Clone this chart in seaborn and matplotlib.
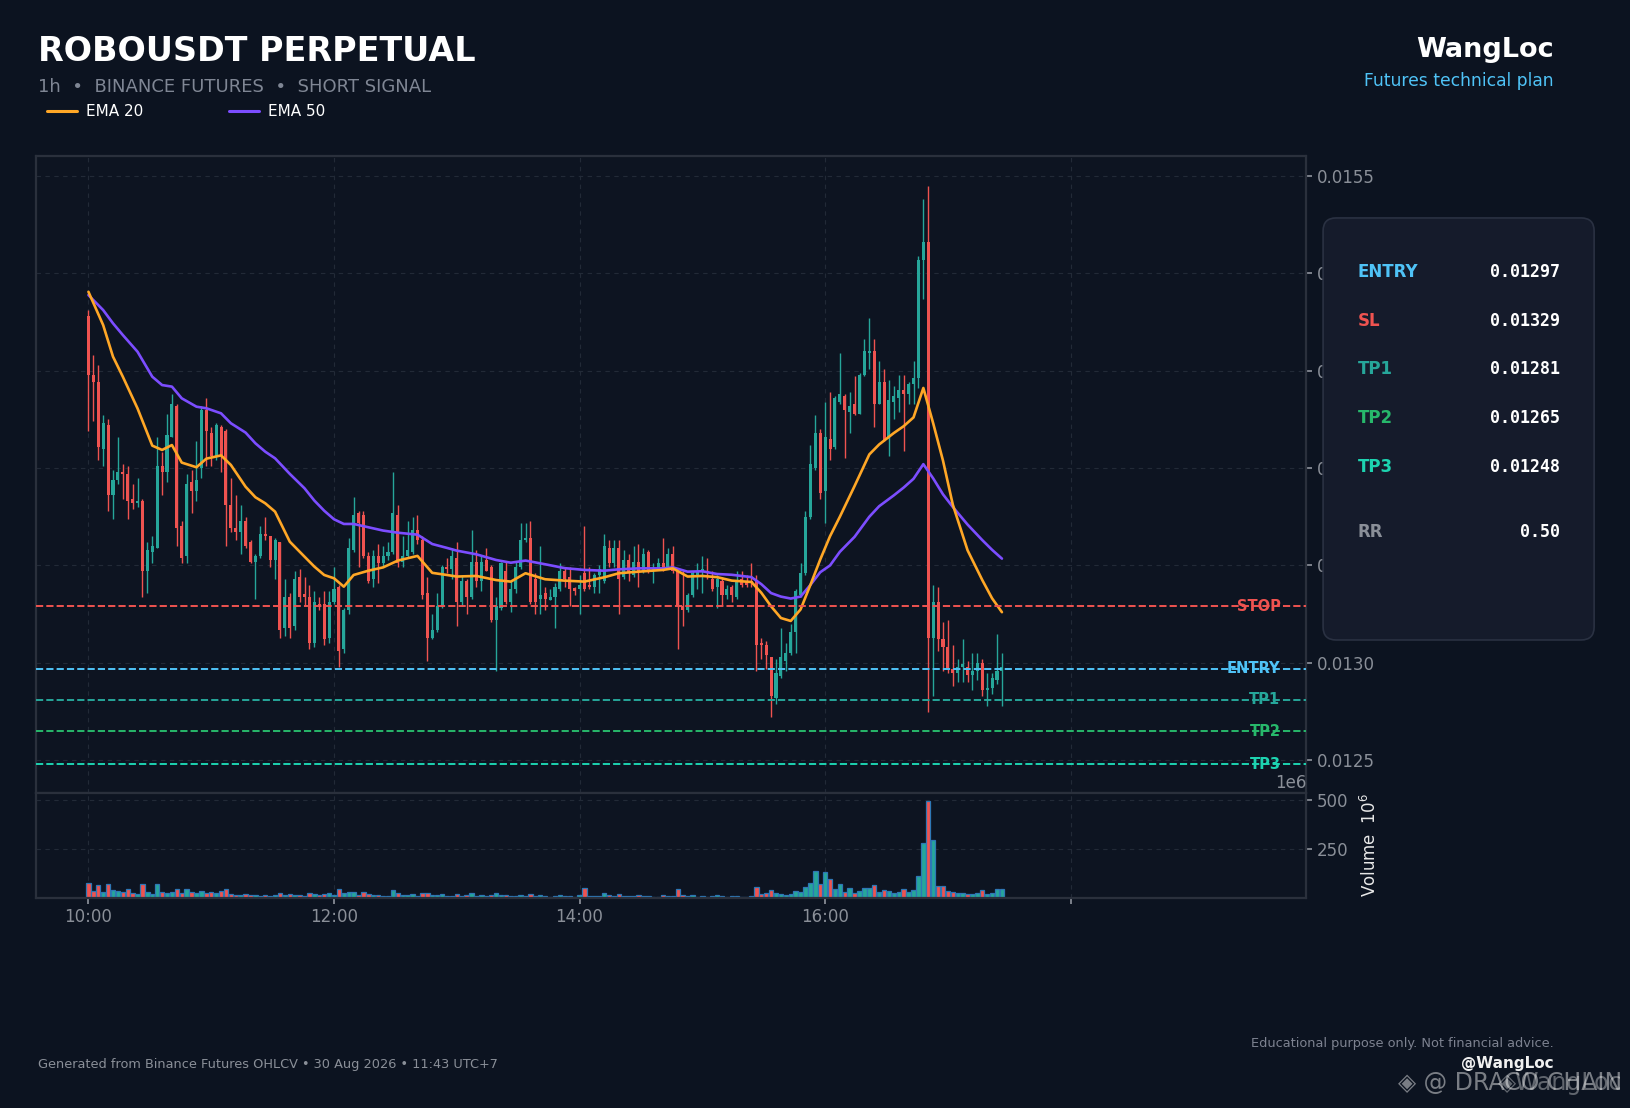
import numpy as np
import pandas as pd
import seaborn as sns
import matplotlib
matplotlib.use("Agg")
import matplotlib.pyplot as plt
from matplotlib.patches import FancyBboxPatch
from matplotlib.lines import Line2D
from matplotlib.ticker import FormatStrFormatter

# ---------------- data (1h candles) ----------------
opens = [
    0.01478, 0.01448, 0.01444, 0.01410, 0.01422, 0.01386, 0.01394, 0.01398, 0.01397, 0.01384,
    0.01382, 0.01383, 0.01347, 0.01357, 0.01359, 0.01401, 0.01398, 0.01416, 0.01432, 0.01370,
    0.01355, 0.01393, 0.01388, 0.01400, 0.01430, 0.01418, 0.01406, 0.01421, 0.01419, 0.01381,
    0.01369, 0.01367, 0.01373, 0.01362, 0.01352, 0.01355, 0.01366, 0.01365, 0.01353, 0.01362,
    0.01318, 0.01334, 0.01319, 0.01344, 0.01335, 0.01334, 0.01310, 0.01330, 0.01330, 0.01313,
    0.01331, 0.01339, 0.01307, 0.01327, 0.01358, 0.01377, 0.01376, 0.01355, 0.01343, 0.01355,
    0.01351, 0.01355, 0.01357, 0.01376, 0.01352, 0.01355, 0.01357, 0.01368, 0.01363, 0.01336,
    0.01313, 0.01317, 0.01329, 0.01349, 0.01348, 0.01354, 0.01331, 0.01342, 0.01334, 0.01352,
    0.01342, 0.01353, 0.01349, 0.01322, 0.01328, 0.01347, 0.01331, 0.01338, 0.01349, 0.01363,
    0.01364, 0.01343, 0.01333, 0.01336, 0.01332, 0.01334, 0.01338, 0.01347, 0.01344, 0.01338,
    0.01338, 0.01346, 0.01340, 0.01339, 0.01345, 0.01342, 0.01359, 0.01351, 0.01359, 0.01344,
    0.01353, 0.01345, 0.01352, 0.01347, 0.01357, 0.01347, 0.01348, 0.01351, 0.01349, 0.01356,
    0.01347, 0.01329, 0.01327, 0.01335, 0.01345, 0.01347, 0.01347, 0.01343, 0.01339, 0.01342,
    0.01335, 0.01339, 0.01334, 0.01343, 0.01342, 0.01342, 0.01342, 0.01310, 0.01309, 0.01303,
    0.01282, 0.01293, 0.01301, 0.01305, 0.01316, 0.01335, 0.01346, 0.01375, 0.01400, 0.01418,
    0.01388, 0.01415, 0.01411, 0.01434, 0.01437, 0.01429, 0.01433, 0.01428, 0.01448, 0.01459,
    0.01460, 0.01433, 0.01444, 0.01415, 0.01434, 0.01436, 0.01440, 0.01438, 0.01443, 0.01446,
    0.01507, 0.01516, 0.01313, 0.01331, 0.01312, 0.01308, 0.01297, 0.01295, 0.01298, 0.01298,
    0.01294, 0.01296, 0.01300, 0.01286, 0.01287, 0.01291, 0.01296,
]
highs = [
    0.01481, 0.01458, 0.01453, 0.01427, 0.01425, 0.01399, 0.01416, 0.01402, 0.01401, 0.01392,
    0.01395, 0.01384, 0.01362, 0.01365, 0.01416, 0.01408, 0.01428, 0.01438, 0.01433, 0.01373,
    0.01397, 0.01399, 0.01414, 0.01432, 0.01436, 0.01421, 0.01423, 0.01422, 0.01420, 0.01395,
    0.01386, 0.01381, 0.01375, 0.01363, 0.01356, 0.01370, 0.01375, 0.01365, 0.01364, 0.01362,
    0.01343, 0.01336, 0.01347, 0.01348, 0.01344, 0.01340, 0.01337, 0.01334, 0.01337, 0.01337,
    0.01349, 0.01340, 0.01328, 0.01364, 0.01385, 0.01378, 0.01378, 0.01357, 0.01358, 0.01361,
    0.01360, 0.01362, 0.01398, 0.01381, 0.01365, 0.01373, 0.01375, 0.01376, 0.01365, 0.01344,
    0.01325, 0.01336, 0.01350, 0.01354, 0.01359, 0.01362, 0.01345, 0.01343, 0.01368, 0.01358,
    0.01355, 0.01359, 0.01350, 0.01334, 0.01352, 0.01352, 0.01342, 0.01352, 0.01372, 0.01372,
    0.01373, 0.01346, 0.01360, 0.01339, 0.01338, 0.01341, 0.01351, 0.01349, 0.01349, 0.01339,
    0.01345, 0.01370, 0.01349, 0.01346, 0.01350, 0.01366, 0.01363, 0.01363, 0.01363, 0.01358,
    0.01356, 0.01360, 0.01361, 0.01359, 0.01358, 0.01351, 0.01354, 0.01364, 0.01359, 0.01360,
    0.01347, 0.01347, 0.01336, 0.01347, 0.01351, 0.01355, 0.01354, 0.01347, 0.01345, 0.01344,
    0.01340, 0.01340, 0.01347, 0.01347, 0.01345, 0.01351, 0.01345, 0.01313, 0.01311, 0.01303,
    0.01302, 0.01318, 0.01310, 0.01320, 0.01338, 0.01351, 0.01378, 0.01412, 0.01427, 0.01420,
    0.01434, 0.01439, 0.01437, 0.01459, 0.01438, 0.01439, 0.01447, 0.01449, 0.01466, 0.01477,
    0.01466, 0.01455, 0.01451, 0.01445, 0.01442, 0.01448, 0.01448, 0.01444, 0.01455, 0.01509,
    0.01538, 0.01545, 0.01340, 0.01339, 0.01321, 0.01322, 0.01309, 0.01302, 0.01312, 0.01301,
    0.01305, 0.01305, 0.01302, 0.01295, 0.01295, 0.01315, 0.01305,
]
lows = [
    0.01419, 0.01424, 0.01404, 0.01401, 0.01378, 0.01374, 0.01392, 0.01384, 0.01374, 0.01379,
    0.01380, 0.01334, 0.01336, 0.01351, 0.01359, 0.01386, 0.01393, 0.01416, 0.01360, 0.01351,
    0.01351, 0.01377, 0.01383, 0.01395, 0.01401, 0.01401, 0.01404, 0.01398, 0.01360, 0.01367,
    0.01363, 0.01356, 0.01359, 0.01351, 0.01333, 0.01354, 0.01363, 0.01349, 0.01343, 0.01313,
    0.01314, 0.01313, 0.01317, 0.01331, 0.01329, 0.01307, 0.01308, 0.01327, 0.01309, 0.01310,
    0.01330, 0.01298, 0.01305, 0.01325, 0.01357, 0.01349, 0.01354, 0.01341, 0.01339, 0.01341,
    0.01349, 0.01353, 0.01356, 0.01349, 0.01349, 0.01354, 0.01356, 0.01361, 0.01333, 0.01301,
    0.01312, 0.01316, 0.01328, 0.01346, 0.01343, 0.01319, 0.01329, 0.01325, 0.01333, 0.01339,
    0.01337, 0.01347, 0.01321, 0.01296, 0.01327, 0.01330, 0.01326, 0.01336, 0.01348, 0.01362,
    0.01330, 0.01325, 0.01325, 0.01327, 0.01332, 0.01318, 0.01337, 0.01339, 0.01329, 0.01335,
    0.01325, 0.01337, 0.01338, 0.01336, 0.01336, 0.01341, 0.01349, 0.01349, 0.01325, 0.01343,
    0.01342, 0.01344, 0.01339, 0.01346, 0.01346, 0.01341, 0.01348, 0.01347, 0.01348, 0.01346,
    0.01307, 0.01319, 0.01326, 0.01334, 0.01338, 0.01336, 0.01343, 0.01337, 0.01328, 0.01329,
    0.01333, 0.01331, 0.01333, 0.01339, 0.01339, 0.01339, 0.01296, 0.01302, 0.01297, 0.01272,
    0.01279, 0.01292, 0.01296, 0.01304, 0.01305, 0.01334, 0.01345, 0.01374, 0.01399, 0.01384,
    0.01372, 0.01404, 0.01410, 0.01433, 0.01405, 0.01418, 0.01427, 0.01428, 0.01447, 0.01451,
    0.01421, 0.01433, 0.01414, 0.01406, 0.01425, 0.01429, 0.01409, 0.01433, 0.01433, 0.01441,
    0.01487, 0.01275, 0.01283, 0.01306, 0.01296, 0.01295, 0.01288, 0.01290, 0.01290, 0.01290,
    0.01286, 0.01291, 0.01283, 0.01278, 0.01284, 0.01289, 0.01278,
]
closes = [
    0.01448, 0.01444, 0.01411, 0.01423, 0.01386, 0.01394, 0.01398, 0.01397, 0.01383, 0.01382,
    0.01383, 0.01347, 0.01358, 0.01360, 0.01401, 0.01398, 0.01417, 0.01433, 0.01369, 0.01354,
    0.01392, 0.01388, 0.01394, 0.01430, 0.01419, 0.01406, 0.01422, 0.01406, 0.01381, 0.01369,
    0.01367, 0.01373, 0.01360, 0.01352, 0.01355, 0.01366, 0.01365, 0.01353, 0.01363, 0.01317,
    0.01334, 0.01318, 0.01343, 0.01334, 0.01334, 0.01310, 0.01331, 0.01329, 0.01312, 0.01331,
    0.01338, 0.01306, 0.01327, 0.01359, 0.01376, 0.01372, 0.01355, 0.01342, 0.01355, 0.01351,
    0.01355, 0.01357, 0.01377, 0.01351, 0.01355, 0.01358, 0.01368, 0.01363, 0.01335, 0.01313,
    0.01317, 0.01329, 0.01349, 0.01348, 0.01355, 0.01331, 0.01342, 0.01334, 0.01352, 0.01342,
    0.01352, 0.01347, 0.01322, 0.01329, 0.01351, 0.01331, 0.01338, 0.01349, 0.01363, 0.01364,
    0.01331, 0.01331, 0.01335, 0.01333, 0.01334, 0.01339, 0.01347, 0.01343, 0.01338, 0.01337,
    0.01340, 0.01338, 0.01339, 0.01345, 0.01348, 0.01360, 0.01351, 0.01359, 0.01343, 0.01353,
    0.01346, 0.01352, 0.01347, 0.01356, 0.01347, 0.01348, 0.01351, 0.01348, 0.01356, 0.01347,
    0.01329, 0.01327, 0.01335, 0.01346, 0.01347, 0.01348, 0.01346, 0.01338, 0.01343, 0.01335,
    0.01338, 0.01335, 0.01342, 0.01340, 0.01340, 0.01341, 0.01309, 0.01309, 0.01304, 0.01283,
    0.01295, 0.01303, 0.01305, 0.01316, 0.01337, 0.01346, 0.01375, 0.01402, 0.01418, 0.01387,
    0.01416, 0.01410, 0.01436, 0.01438, 0.01430, 0.01432, 0.01428, 0.01448, 0.01460, 0.01460,
    0.01433, 0.01444, 0.01414, 0.01435, 0.01437, 0.01440, 0.01438, 0.01443, 0.01446, 0.01507,
    0.01516, 0.01313, 0.01331, 0.01312, 0.01308, 0.01297, 0.01295, 0.01298, 0.01299, 0.01294,
    0.01296, 0.01300, 0.01286, 0.01287, 0.01292, 0.01296, 0.01298,
]
# volume in millions of contracts
volumes_m = [
    75, 35, 65, 30, 70, 42, 32, 30, 46, 22,
    20, 71, 30, 20, 71, 28, 25, 30, 46, 25,
    46, 28, 22, 35, 25, 30, 22, 35, 46, 18,
    15, 12, 20, 12, 15, 10, 12, 10, 12, 25,
    15, 18, 12, 15, 10, 22, 18, 12, 20, 22,
    15, 46, 25, 30, 28, 15, 30, 20, 15, 12,
    10, 8, 38, 25, 15, 12, 18, 10, 22, 25,
    12, 15, 20, 8, 10, 20, 10, 12, 25, 10,
    12, 8, 15, 25, 15, 12, 10, 8, 12, 8,
    18, 10, 12, 8, 6, 10, 15, 8, 10, 5,
    12, 51, 10, 8, 10, 25, 12, 10, 20, 8,
    10, 8, 12, 8, 10, 6, 5, 12, 8, 10,
    46, 15, 8, 12, 6, 8, 6, 10, 12, 8,
    5, 8, 10, 6, 5, 8, 56, 18, 22, 40,
    25, 20, 15, 20, 35, 30, 56, 77, 138, 70,
    133, 97, 45, 71, 30, 51, 25, 35, 51, 51,
    66, 30, 40, 35, 25, 30, 46, 30, 38, 112,
    280, 495, 296, 61, 61, 35, 28, 22, 25, 20,
    18, 22, 40, 20, 25, 45, 45,
]

# EMA readings (candle index -> value)
ema_idx = [0, 3, 5, 7, 10, 13, 15, 17, 19, 22, 24, 27, 29, 32, 34, 36, 38, 41, 44, 46,
           48, 50, 52, 54, 57, 60, 63, 67, 70, 73, 75, 79, 83, 86, 89, 93, 97, 101, 105, 108,
           112, 117, 119, 122, 125, 128, 131, 135, 137, 139, 141, 143, 145, 147, 149, 151, 153, 156, 159, 161,
           164, 166, 168, 170, 172, 174, 176, 179, 182, 184, 186]
ema20 = [0.014905, 0.014734, 0.014572, 0.014469, 0.014306, 0.014115, 0.014093, 0.014118, 0.014028, 0.014004,
         0.014048, 0.014065, 0.014016, 0.013904, 0.013850, 0.013819, 0.013776, 0.013622, 0.013545, 0.013494,
         0.013451, 0.013434, 0.013391, 0.013451, 0.013473, 0.013490, 0.013525, 0.013549, 0.013462, 0.013451,
         0.013443, 0.013446, 0.013425, 0.013417, 0.013460, 0.013429, 0.013422, 0.013417, 0.013439, 0.013460,
         0.013468, 0.013477, 0.013485, 0.013443, 0.013446, 0.013440, 0.013422, 0.013415, 0.013360, 0.013290,
         0.013230, 0.013215, 0.013274, 0.013400, 0.013530, 0.013650, 0.013750, 0.013908, 0.014070, 0.014121,
         0.014180, 0.014215, 0.014260, 0.014411, 0.014230, 0.014038, 0.013812, 0.013578, 0.013425, 0.013331,
         0.013260]
ema50 = [0.014888, 0.014811, 0.014743, 0.014683, 0.014597, 0.014469, 0.014426, 0.014418, 0.014358, 0.014315,
         0.014307, 0.014281, 0.014230, 0.014182, 0.014127, 0.014084, 0.014050, 0.013970, 0.013896, 0.013833,
         0.013781, 0.013737, 0.013713, 0.013713, 0.013696, 0.013679, 0.013668, 0.013658, 0.013610, 0.013590,
         0.013576, 0.013557, 0.013528, 0.013514, 0.013525, 0.013506, 0.013486, 0.013477, 0.013473, 0.013480,
         0.013485, 0.013485, 0.013490, 0.013468, 0.013470, 0.013456, 0.013452, 0.013440, 0.013404, 0.013358,
         0.013340, 0.013330, 0.013340, 0.013400, 0.013465, 0.013500, 0.013570, 0.013647, 0.013750, 0.013804,
         0.013860, 0.013900, 0.013945, 0.014020, 0.013947, 0.013865, 0.013800, 0.013710, 0.013630, 0.013580,
         0.013535]

x_tick_pos = [0, 50, 100, 150, 200]
x_tick_labels = ["10:00", "12:00", "14:00", "16:00", ""]

level_names = ["STOP", "ENTRY", "TP1", "TP2", "TP3"]
level_prices = [0.01329, 0.01297, 0.01281, 0.01265, 0.01248]

plan_names = ["ENTRY", "SL", "TP1", "TP2", "TP3"]
plan_values = [0.01297, 0.01329, 0.01281, 0.01265, 0.01248]
risk_reward = 0.50

# ---------------- style ----------------
BG = "#0c1320"
AX_BG = "#0d1421"
GRID = "#222a37"
SPINE = "#2a303c"
GREY = "#8a8f98"
UP = "#26a69a"
DOWN = "#ef5350"
ORANGE = "#ffa726"
PURPLE = "#7c4dff"
level_colors = ["#ef5350", "#4fc3f7", "#26a69a", "#27b86b", "#1dd3b0"]
plan_colors = ["#4fc3f7", "#ef5350", "#26a69a", "#27b86b", "#1dd3b0"]

sns.set_theme(style="dark", rc={
    "figure.facecolor": BG,
    "axes.facecolor": AX_BG,
    "axes.edgecolor": SPINE,
    "axes.linewidth": 1.6,
    "grid.color": GRID,
    "xtick.color": GREY,
    "ytick.color": GREY,
    "xtick.labelcolor": GREY,
    "ytick.labelcolor": GREY,
    "xtick.major.size": 4,
    "ytick.major.size": 4,
    "xtick.bottom": True,
    "ytick.right": True,
})
plt.rcParams["font.family"] = ["DejaVu Sans"]

df = pd.DataFrame({"open": opens, "high": highs, "low": lows, "close": closes,
                   "volume": np.array(volumes_m) * 1e6})
df["idx"] = np.arange(len(df))
up = df["close"] >= df["open"]
colors = np.where(up, UP, DOWN)

fig = plt.figure(figsize=(16.31, 11.08), dpi=100)
ax = fig.add_axes([0.0223, 0.2847, 0.7787, 0.5745])
axv = fig.add_axes([0.0223, 0.1898, 0.7787, 0.0949], sharex=ax)

# candles
ax.vlines(df["idx"], df["low"], df["high"], colors=colors, linewidth=1.0, zorder=2)
body_bottom = df[["open", "close"]].min(axis=1)
body_h = (df["close"] - df["open"]).abs().clip(lower=0.000012)
ax.bar(df["idx"], body_h, bottom=body_bottom, width=0.62, color=colors, linewidth=0, zorder=3)

# EMAs
ema_df = pd.DataFrame({"idx": ema_idx, "ema20": ema20, "ema50": ema50})
sns.lineplot(data=ema_df, x="idx", y="ema50", ax=ax, color=PURPLE, linewidth=1.9, zorder=4, legend=False)
sns.lineplot(data=ema_df, x="idx", y="ema20", ax=ax, color=ORANGE, linewidth=1.9, zorder=4, legend=False)

# plan levels
for name, price, col in zip(level_names, level_prices, level_colors):
    ax.text(242.7, price, name, color=col, fontsize=10.5, fontweight="bold",
            ha="right", va="center", zorder=4.5)
    ax.axhline(price, color=col, linestyle="--", linewidth=1.4, zorder=5)

ax.set_xlim(-10.6, 248)
ax.set_ylim(0.012334, 0.015602)
ax.set_yticks(np.arange(0.0125, 0.01551, 0.0005))
ax.yaxis.set_major_formatter(FormatStrFormatter("%.4f"))
ax.yaxis.tick_right()
ax.tick_params(axis="y", labelsize=12, colors=GREY, right=True, left=False)
ax.tick_params(axis="x", bottom=False, labelbottom=False)
ax.grid(True, color=GRID, linestyle=(0, (4, 4)), linewidth=0.8)
ax.set_xlabel("")
ax.set_ylabel("")
for s in ax.spines.values():
    s.set_color(SPINE)
    s.set_linewidth(1.6)

# volume
axv.bar(df["idx"], df["volume"], width=0.9, color=colors, edgecolor="#2e77b5", linewidth=0.9, zorder=2)
axv.set_ylim(0, 540e6)
axv.set_yticks([250e6, 500e6])
axv.yaxis.tick_right()
axv.ticklabel_format(axis="y", style="sci", scilimits=(6, 6))
axv.yaxis.get_offset_text().set_color(GREY)
axv.yaxis.get_offset_text().set_fontsize(12)
axv.yaxis.set_label_position("right")
axv.set_ylabel("Volume  $10^{6}$", color="#e8e8e8", fontsize=12, labelpad=8)
axv.set_xticks(x_tick_pos)
axv.set_xticklabels(x_tick_labels)
axv.tick_params(axis="x", labelsize=12, colors=GREY, bottom=True)
axv.tick_params(axis="y", labelsize=12, colors=GREY, right=True, left=False)
axv.grid(True, color=GRID, linestyle=(0, (4, 4)), linewidth=0.8)
for s in axv.spines.values():
    s.set_color(SPINE)
    s.set_linewidth(1.6)

# header
fig.text(0.0233, 0.945, "ROBOUSDT PERPETUAL", color="white", fontsize=24, fontweight="bold", va="baseline")
fig.text(0.0233, 0.9167, "1h  •  BINANCE FUTURES  •  SHORT SIGNAL", color="#7f8694", fontsize=13,
         va="baseline")
fig.text(0.9528, 0.9486, "WangLoc", color="white", fontsize=19.5, fontweight="bold", ha="right", va="baseline")
fig.text(0.9528, 0.9228, "Futures technical plan", color="#4fc3f7", fontsize=12.3, ha="right", va="baseline")

handles = [Line2D([], [], color=ORANGE, linewidth=2.2, label="EMA 20"),
           Line2D([], [], color=PURPLE, linewidth=2.2, label="EMA 50")]
fig.legend(handles=handles, loc="center left", bbox_to_anchor=(0.0287, 0.8992), ncol=2,
           frameon=False, fontsize=11, handlelength=2.0, handletextpad=0.55,
           columnspacing=5.6, borderaxespad=0, borderpad=0, labelcolor="white")

# plan panel
panel = fig.add_axes([0.8106, 0.4215, 0.1674, 0.3827])
panel.set_zorder(3)
panel.set_xlim(0, 273)
panel.set_ylim(0, 424)
panel.axis("off")
panel.add_patch(FancyBboxPatch((1, 1), 271, 422, boxstyle="round,pad=0,rounding_size=13",
                               facecolor="#151b2b", edgecolor="#2a3142", linewidth=1.2))
row_y = [363.7, 315.3, 266.7, 217.7, 169.3]
for name, val, col, y in zip(plan_names, plan_values, plan_colors, row_y):
    panel.text(35.3, y, name, color=col, fontsize=12, fontweight="bold", va="baseline")
    panel.text(238, y, f"{val:.5f}", color="white", fontsize=12, fontweight="bold",
               family="DejaVu Sans Mono", ha="right", va="baseline")
panel.text(35.3, 104.3, "RR", color=GREY, fontsize=12, fontweight="bold", va="baseline")
panel.text(238, 104.3, f"{risk_reward:.2f}", color="white", fontsize=12, fontweight="bold",
           family="DejaVu Sans Mono", ha="right", va="baseline")

# footer
fig.text(0.0233, 0.0361, "Generated from Binance Futures OHLCV • 30 Aug 2026 • 11:43 UTC+7",
         color=GREY, fontsize=9.3, va="baseline")
fig.text(0.9528, 0.0553, "Educational purpose only. Not financial advice.", color="#7d8290",
         fontsize=9.3, ha="right", va="baseline")
fig.text(0.9528, 0.0361, "@WangLoc", color="#f0f0f0", fontsize=11, fontweight="bold",
         ha="right", va="baseline")
fig.text(0.9945, 0.0162, "◈ @ DRACO CHAIN", color="white", alpha=0.45, fontsize=17,
         ha="right", va="baseline")
fig.text(0.9945, 0.0162, "◈WangLoc", color="white", alpha=0.35, fontsize=17,
         ha="right", va="baseline")

fig.savefig("out.png", dpi=100, facecolor=BG)
